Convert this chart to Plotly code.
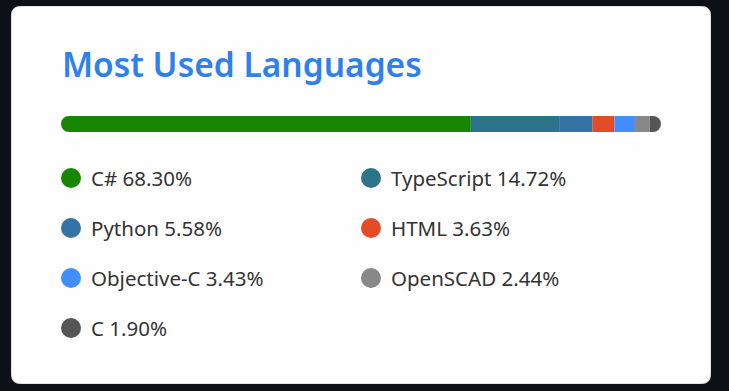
import plotly.graph_objects as go

languages = ["C#", "TypeScript", "Python", "HTML", "Objective-C", "OpenSCAD", "C"]
percents = [68.30, 14.72, 5.58, 3.63, 3.43, 2.44, 1.90]
colors = ["#178600", "#2b7489", "#3572A5", "#e34c26", "#438eff", "#888888", "#555555"]
title_text = "Most Used Languages"

W, H = 729, 391
FONT = "Noto Sans"

fig = go.Figure()

# progress bar: first language stacked to the negative side, the rest to the positive
# side, so that both outer ends get rounded corners (barmode="relative")
n = len(languages)
for i, (lang, p, c) in enumerate(zip(languages, percents, colors)):
    fig.add_trace(go.Bar(
        y=[0], x=[-p if i == 0 else p], orientation="h", width=1,
        marker=dict(color=c, line=dict(width=0)),
        name=lang, hoverinfo="skip", showlegend=False,
        xaxis="x", yaxis="y",
    ))

# legend grid
col_x = [71, 371]
row_y0, row_dy = 178, 50
lx = [col_x[i % 2] for i in range(n)]
ly = [row_y0 + row_dy * (i // 2) for i in range(n)]
fig.add_trace(go.Scatter(
    x=lx, y=ly, mode="markers", xaxis="x2", yaxis="y2",
    marker=dict(size=20, color=colors, line=dict(width=0)),
    hoverinfo="skip", showlegend=False,
))
annotations = []
for i in range(n):
    annotations.append(dict(
        x=lx[i] + 17.5, y=ly[i] - 0.5, xref="x2", yref="y2",
        text=f"{languages[i]} {percents[i]:.2f}%", showarrow=False,
        xanchor="left", yanchor="middle",
        font=dict(family=FONT, size=20.5, color="#333333"),
    ))
annotations.append(dict(
    x=60, y=64, xref="x2", yref="y2", text=title_text, showarrow=False,
    xanchor="left", yanchor="middle",
    font=dict(family=FONT, size=33.5, color="#2f80ed", weight=600),
))

# card (paper coordinates so it sits below every subplot)
def px(x):
    return x / W

def py(y):
    return 1 - y / H

x0, y0, x1, y1, r = 11.5, 6.5, 710.5, 383.5, 9
card_path = (f"M{px(x0+r)},{py(y0)} L{px(x1-r)},{py(y0)} Q{px(x1)},{py(y0)} {px(x1)},{py(y0+r)} "
             f"L{px(x1)},{py(y1-r)} Q{px(x1)},{py(y1)} {px(x1-r)},{py(y1)} "
             f"L{px(x0+r)},{py(y1)} Q{px(x0)},{py(y1)} {px(x0)},{py(y1-r)} "
             f"L{px(x0)},{py(y0+r)} Q{px(x0)},{py(y0)} {px(x0+r)},{py(y0)} Z")

fig.update_layout(
    width=W, height=H,
    margin=dict(l=0, r=0, t=0, b=0),
    paper_bgcolor="#0d1117",
    plot_bgcolor="rgba(0,0,0,0)",
    barmode="relative",
    barcornerradius=8,
    xaxis=dict(domain=[61 / W, 661 / W], range=[-percents[0], sum(percents[1:])],
               visible=False, fixedrange=True),
    yaxis=dict(domain=[1 - 132 / H, 1 - 116 / H], range=[-0.5, 0.5], visible=False, fixedrange=True),
    xaxis2=dict(domain=[0, 1], range=[0, W], visible=False, anchor="y2"),
    yaxis2=dict(domain=[0, 1], range=[H, 0], visible=False, anchor="x2"),
    shapes=[dict(type="path", path=card_path, xref="paper", yref="paper", layer="below",
                 fillcolor="#fffefe", line=dict(color="#e4e2e2", width=1))],
    annotations=annotations,
    hovermode=False,
)

fig.write_html(
    "out.html",
    config={"displayModeBar": False, "staticPlot": True},
    post_script="document.body.style.margin='0';document.body.style.background='#0d1117';document.body.style.overflow='hidden';",
)
